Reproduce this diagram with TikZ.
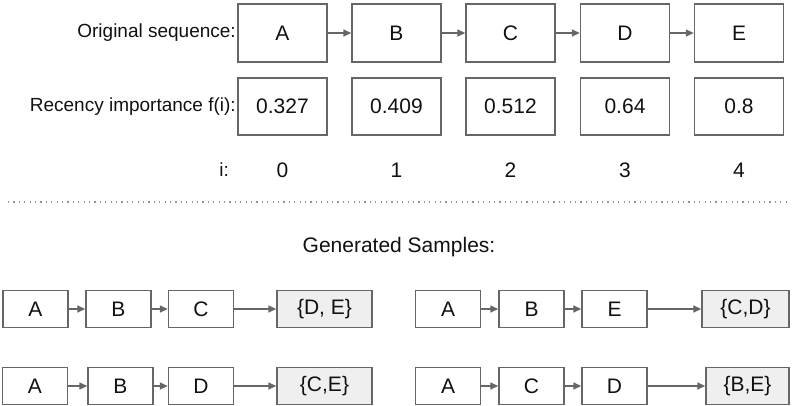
\documentclass[tikz,border=0pt]{standalone}
\usepackage{fontspec}
\setmainfont{Liberation Sans}
\usetikzlibrary{arrows.meta}
\definecolor{edgegray}{HTML}{666666}
\definecolor{fillgray}{HTML}{EFEFEF}
\definecolor{txt}{HTML}{111111}
\tikzset{
  bigtext/.style={font=\fontsize{21}{24}\selectfont, text=txt},
  lbltext/.style={font=\fontsize{19}{22}\selectfont, text=txt},
  box/.style={draw=edgegray, line width=1.4pt, inner sep=0pt, bigtext},
  topbox/.style={box, minimum width=89pt, minimum height=58pt},
  valbox/.style={box, minimum width=89pt, minimum height=57pt},
  smallbox/.style={box, minimum width=65pt, minimum height=36.5pt},
  resbox/.style={box, fill=fillgray, minimum height=36.5pt},
  arr/.style={draw=edgegray, line width=1.4pt, -{Triangle[length=8pt,width=7pt]}},
  sep/.style={draw=edgegray!70, line width=1.2pt, dash pattern=on 1.2pt off 4.2pt}
}
\begin{document}
\begin{tikzpicture}[x=1pt,y=-1pt]
\useasboundingbox (0,0) rectangle (793,405);
% top rows
\foreach \n/\x/\l/\v/\i in {1/282.5/A/0.327/0, 2/396.5/B/0.409/1, 3/510.5/C/0.512/2, 4/625/D/0.64/3, 5/739/E/0.8/4}{
  \node[topbox] (t\n) at (\x,33) {\l};
  \node[valbox] (v\n) at (\x,106.5) {\v};
  \node[bigtext] (i\n) at (\x,170) {\i};
}
\foreach \a/\b in {1/2,2/3,3/4,4/5}{ \draw[arr] (t\a.east) -- (t\b.west); }
\node[lbltext, anchor=east, inner sep=0pt] (l1) at (236,33) {Original sequence:};
\node[lbltext, anchor=east, inner sep=0pt] (l2) at (236,106.5) {Recency importance f(i):};
\node[lbltext, anchor=east, inner sep=0pt] (l3) at (229,170) {i:};
% separator
\coordinate (s1) at (8,202);
\coordinate (s2) at (786,202);
\draw[sep] (s1) -- (s2);
\node[bigtext] (gs) at (399,247) {Generated Samples:};
% bottom left row 1
\node[smallbox] (a1) at (35.5,309) {A};
\node[smallbox] (a2) at (118.5,309) {B};
\node[smallbox] (a3) at (201,309) {C};
\node[resbox, minimum width=95pt] (a4) at (324.5,309) {\{D, E\}};
% bottom left row 2
\node[smallbox] (b1) at (35,386) {A};
\node[smallbox] (b2) at (120.5,386) {B};
\node[smallbox] (b3) at (201,386) {D};
\node[resbox, minimum width=95pt] (b4) at (324.5,386) {\{C,E\}};
% bottom right row 1
\node[smallbox] (c1) at (448,309) {A};
\node[smallbox] (c2) at (531.5,309) {B};
\node[smallbox] (c3) at (614.5,309) {E};
\node[resbox, minimum width=87pt] (c4) at (745.5,309) {\{C,D\}};
% bottom right row 2
\node[smallbox] (d1) at (448,386) {A};
\node[smallbox] (d2) at (531.5,386) {C};
\node[smallbox] (d3) at (614.5,386) {D};
\node[resbox, minimum width=83pt] (d4) at (747.5,386) {\{B,E\}};
\foreach \r in {a,b,c,d}{
  \draw[arr] (\r1.east) -- (\r2.west);
  \draw[arr] (\r2.east) -- (\r3.west);
  \draw[arr] (\r3.east) -- (\r4.west);
}
\end{tikzpicture}
\end{document}
